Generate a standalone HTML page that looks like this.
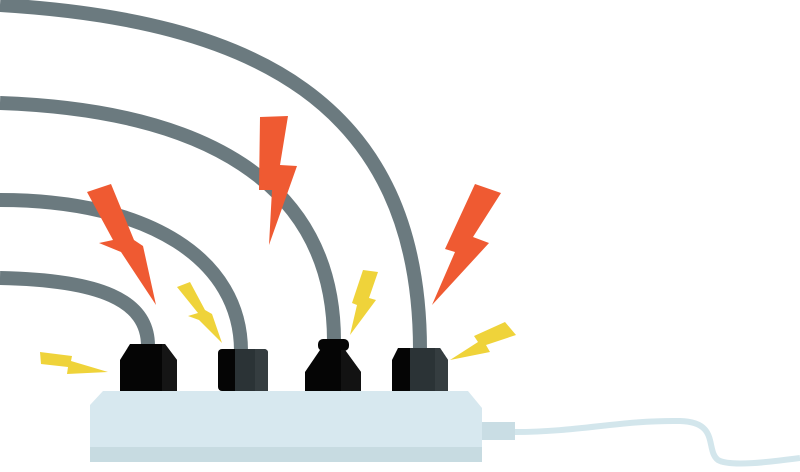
<!DOCTYPE html>
<html><head><style>html,body{margin:0;padding:0;background:#fff}svg{display:block}</style></head>
<body>
<svg width="800" height="472" viewBox="0 0 800 472" xmlns="http://www.w3.org/2000/svg">
<g fill="none" stroke="#6b7a7f" stroke-width="14">
<path d="M0,278 C100,280 148,300 148,346"/>
<path d="M0,200 C150,200 241,260 241,351"/>
<path d="M0,103 C200,110 334,180 334,341"/>
<path d="M0,5 C250,20 420,100 420,350"/>
</g>
<path d="M515,432 C580,432 620,420 680,421 C720,422 705,450 718,460 C730,467 770,462 800,458" fill="none" stroke="#d3e6ec" stroke-width="6"/>
<rect x="480" y="422" width="35" height="18" fill="#c9dde4"/>
<path d="M90,405 L103,391 L468,391 L482,408 L482,462 L90,462 Z" fill="#d7e8ef"/>
<rect x="90" y="447" width="392" height="15" fill="#c7dbe1"/>
<path d="M120,360 L130,344 L165,344 L177,360 L177,391 L120,391 Z" fill="#050505"/>
<path d="M162,344 L165,344 L177,360 L177,391 L162,391 Z" fill="#151515"/>
<rect x="218" y="349" width="50" height="42" rx="4" fill="#050505"/>
<rect x="235" y="349" width="30" height="42" fill="#2b3336"/>
<path d="M255,349 L264,349 Q268,349 268,353 L268,391 L255,391 Z" fill="#353d40"/>
<rect x="318" y="339" width="31" height="12" rx="5" fill="#050505"/>
<path d="M305,372 L320,350 L345,350 L361,372 L361,391 L305,391 Z" fill="#050505"/>
<path d="M341,350 L345,350 L361,372 L361,391 L341,391 Z" fill="#121212"/>
<path d="M392,360 L398,348 L440,348 L448,360 L448,391 L392,391 Z" fill="#050505"/>
<path d="M410,348 L440,348 L448,360 L448,391 L410,391 Z" fill="#2b3336"/>
<path d="M435,348 L440,348 L448,360 L448,391 L435,391 Z" fill="#353d40"/>
<g fill="#ef5a32">
<polygon points="87,192 111,184 134,240 143,246 156,305 121,252 99,243 113,240"/>
<polygon points="260,117 288,116 280,165 297,166 269,245 272,190 259,190"/>
<polygon points="475,184 501,193 473,237 489,243 432,305 455,252 445,249"/>
</g>
<g fill="#efd33a">
<polygon points="177,287 190,282 205,310 212,314 222,343 199,320 188,316 198,313"/>
<polygon points="363,270 378,272 369,298 376,300 350,335 357,305 352,303"/>
<polygon points="40,352 72,356 71,361 108,372 67,374 68,367 41,364"/>
<polygon points="505,322 516,335 486,345 490,352 450,360 478,342 474,336"/>
</g>
</svg>
</body></html>
